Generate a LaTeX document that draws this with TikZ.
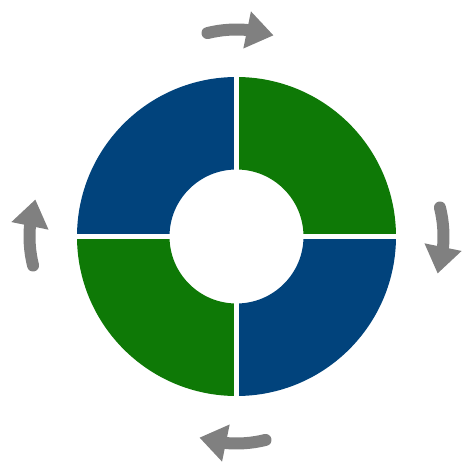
\documentclass[tikz,border=0pt]{standalone}
\usetikzlibrary{arrows.meta,bending}
\definecolor{ringblue}{RGB}{1,67,124}
\definecolor{ringgreen}{RGB}{14,121,6}
\definecolor{turngrey}{RGB}{128,128,128}
\def\quarter#1{(#1:159.5) arc[start angle=#1,delta angle=90,radius=159.5] -- ({#1+90}:67) arc[start angle=#1+90,delta angle=-90,radius=67] -- cycle}
\def\turn#1{[shift={(#1:87)}] ({#1+14}:120) arc[start angle=#1+14,end angle=#1-18,radius=120]}
\tikzset{turnarrow/.style={turngrey,line width=0.6cm,line cap=round,-{Triangle[length=1.35cm,width=1.8cm]}}}

\begin{document}
\begin{tikzpicture}[x=0.05cm,y=0.05cm]
                \useasboundingbox (-236.5,-237.5) rectangle (237.5,236.5);
                \fill[ringgreen] \quarter{0};
                \fill[ringblue]  \quarter{90};
                \fill[ringgreen] \quarter{180};
                \fill[ringblue]  \quarter{270};
                \draw[white,line width=0.25cm] (0,-162) -- (0,162);
                \draw[white,line width=0.25cm] (-162,0) -- (162,0);
                \draw[turnarrow] \turn{90};
                \draw[turnarrow] \turn{0};
                \draw[turnarrow] \turn{-90};
                \draw[turnarrow] \turn{180};
            \end{tikzpicture}
\end{document}
